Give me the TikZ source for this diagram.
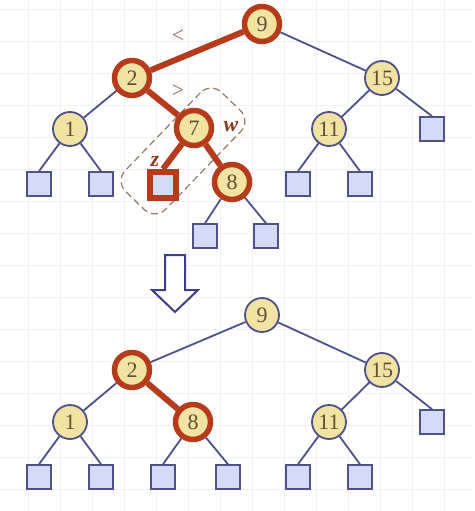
\documentclass[tikz,border=0pt]{standalone}
\usepackage{fontspec}
\setmainfont{Liberation Serif}
\definecolor{edgeC}{HTML}{4E5288}
\definecolor{nodeY}{HTML}{F1E3A2}
\definecolor{leafC}{HTML}{D3DBF6}
\definecolor{redC}{HTML}{B63A1C}
\definecolor{numC}{HTML}{5E5036}
\definecolor{dashC}{HTML}{8E7B6C}
\definecolor{cmpC}{HTML}{8C6F62}
\definecolor{lblC}{HTML}{8A3A1E}
\definecolor{arrC}{HTML}{3C3F88}
\definecolor{gridC}{HTML}{F1F1F3}
\begin{document}
\begin{tikzpicture}[x=1pt,y=-1pt,
  int/.style={circle, draw=edgeC, fill=nodeY, line width=1.8pt, minimum size=34pt, inner sep=0pt, font=\fontsize{22}{22}\selectfont, text=numC},
  redint/.style={int, draw=redC, line width=5.5pt, minimum size=35pt},
  leaf/.style={rectangle, draw=edgeC, fill=leafC, line width=1.6pt, minimum size=24pt, inner sep=0pt},
  redleaf/.style={leaf, draw=redC, line width=6pt, minimum size=26pt},
  edge/.style={draw=edgeC, line width=1.8pt},
  redge/.style={draw=redC, line width=6pt},
  cmp/.style={text=cmpC, font=\fontsize{22}{22}\selectfont},
  lbl/.style={text=lblC, font=\fontsize{22}{22}\selectfont\bfseries\itshape}
]
\useasboundingbox (0,0) rectangle (474,511);
\fill[white] (0,0) rectangle (474,511);
% faint grid
\foreach \gx in {28,60,...,474} \draw[gridC, line width=0.5pt] (\gx,0) -- (\gx,511);
\foreach \gy in {9,41,...,511} \draw[gridC, line width=0.5pt] (0,\gy) -- (474,\gy);

% dashed box around w and z
\node[draw=dashC, dashed, dash pattern=on 7pt off 4pt, line width=1.2pt, rounded corners=15pt,
      minimum width=138pt, minimum height=56pt, rotate=46] (box) at (183,151) {};

% ---------- top tree ----------
\node[redint] (t9) at (262,24) {9};
\node[redint] (t2) at (132,78) {2};
\node[int] (t15) at (382,78) {15};
\node[int] (t1) at (70,129) {1};
\node[redint] (t7) at (194,128) {7};
\node[int] (t11) at (329,129) {11};
\node[leaf] (t15r) at (432,129) {};
\node[leaf] (t1l) at (39,184) {};
\node[leaf] (t1r) at (101,184) {};
\node[redleaf] (tz) at (163,185) {};
\node[redint] (t8) at (232,182) {8};
\node[leaf] (t11l) at (298,184) {};
\node[leaf] (t11r) at (360,184) {};
\node[leaf] (t8l) at (205,236) {};
\node[leaf] (t8r) at (266,236) {};

\draw[redge] (t9) -- (t2);
\draw[redge] (t2) -- (t7);
\draw[redge] (t7) -- (tz.north);
\draw[redge] (t7) -- (t8);
\draw[edge] (t9) -- (t15);
\draw[edge] (t2) -- (t1);
\draw[edge] (t1) -- (t1l.north);
\draw[edge] (t1) -- (t1r.north);
\draw[edge] (t15) -- (t11);
\draw[edge] (t15) -- (t15r.north);
\draw[edge] (t11) -- (t11l.north);
\draw[edge] (t11) -- (t11r.north);
\draw[edge] (t8) -- (t8l.north);
\draw[edge] (t8) -- (t8r.north);

\node[cmp] (lt) at (178,36) {<};
\node[cmp] (gt) at (178,91) {>};
\node[lbl] (w) at (231,127) {w};
\node[lbl] (z) at (155,161) {z};

% ---------- arrow ----------
\draw[arrC, line width=2pt, fill=white, line join=miter]
  (165,255) -- (185,255) -- (185,290) -- (198,290) -- (175,312) -- (152,290) -- (165,290) -- cycle;

% ---------- bottom tree ----------
\node[int] (b9) at (262,315) {9};
\node[redint] (b2) at (132,370) {2};
\node[int] (b15) at (382,370) {15};
\node[int] (b1) at (70,422) {1};
\node[redint] (b8) at (193,422) {8};
\node[int] (b11) at (329,422) {11};
\node[leaf] (b15r) at (432,422) {};
\node[leaf] (b1l) at (39,477) {};
\node[leaf] (b1r) at (101,477) {};
\node[leaf] (b8l) at (163,477) {};
\node[leaf] (b8r) at (228,477) {};
\node[leaf] (b11l) at (298,477) {};
\node[leaf] (b11r) at (360,477) {};

\draw[edge] (b9) -- (b2);
\draw[edge] (b9) -- (b15);
\draw[redge] (b2) -- (b8);
\draw[edge] (b2) -- (b1);
\draw[edge] (b1) -- (b1l.north);
\draw[edge] (b1) -- (b1r.north);
\draw[edge] (b8) -- (b8l.north);
\draw[edge] (b8) -- (b8r.north);
\draw[edge] (b15) -- (b11);
\draw[edge] (b15) -- (b15r.north);
\draw[edge] (b11) -- (b11l.north);
\draw[edge] (b11) -- (b11r.north);
\end{tikzpicture}
\end{document}
